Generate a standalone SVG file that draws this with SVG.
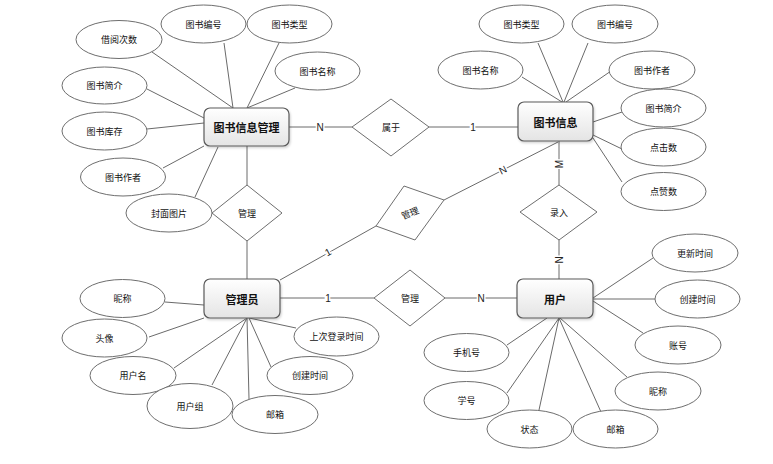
<svg xmlns="http://www.w3.org/2000/svg" width="773" height="464" viewBox="0 0 773 464">
<defs>
<linearGradient id="eg" x1="0" y1="0" x2="0" y2="1">
<stop offset="0" stop-color="#ffffff"/>
<stop offset="1" stop-color="#e4e4e4"/>
</linearGradient>
<filter id="sh" x="-10%" y="-10%" width="130%" height="140%">
<feDropShadow dx="1" dy="1.5" stdDeviation="1" flood-color="#000" flood-opacity="0.18"/>
</filter>
</defs>
<style>
text{font-family:"Noto Sans CJK SC","Noto Sans",sans-serif;fill:#111;text-anchor:middle;dominant-baseline:central}
.at ellipse{fill:#fff;stroke:#6e6e6e;stroke-width:1}
.at text{font-size:9px}
.en rect{fill:url(#eg);stroke:#5a5a5a;stroke-width:1.2;filter:url(#sh)}
.en text{font-size:11px;font-weight:bold}
.rel polygon{fill:#fff;stroke:#6e6e6e;stroke-width:1}
.rel text{font-size:9px}
#connectors line{stroke:#6a6a6a;stroke-width:1;fill:none}
.lb{font-family:"Liberation Sans",Arial,sans-serif;font-size:10px;fill:#222;stroke:#fff;stroke-width:3;paint-order:stroke}
</style>
<rect width="773" height="464" fill="#fff"/>

<g id="connectors">
<line x1="152" y1="52" x2="233" y2="108"/>
<line x1="224" y1="43" x2="233" y2="108"/>
<line x1="279" y1="43" x2="247" y2="108"/>
<line x1="295" y1="88" x2="247" y2="108"/>
<line x1="147" y1="89" x2="204" y2="118"/>
<line x1="147" y1="129" x2="204" y2="123"/>
<line x1="163" y1="168" x2="204" y2="146"/>
<line x1="195" y1="197" x2="218" y2="147"/>
<line x1="538" y1="43" x2="563" y2="102"/>
<line x1="588" y1="43" x2="564" y2="102"/>
<line x1="522" y1="77" x2="562" y2="102"/>
<line x1="611" y1="71" x2="566" y2="102"/>
<line x1="622" y1="112" x2="593" y2="122"/>
<line x1="622" y1="149" x2="593" y2="135"/>
<line x1="622" y1="182" x2="593" y2="138"/>
<line x1="165" y1="302" x2="204" y2="305"/>
<line x1="149" y1="337" x2="204" y2="318"/>
<line x1="174" y1="368" x2="247" y2="318"/>
<line x1="212" y1="385" x2="247" y2="318"/>
<line x1="249" y1="399" x2="247" y2="318"/>
<line x1="271" y1="367" x2="249" y2="318"/>
<line x1="296" y1="328" x2="249" y2="318"/>
<line x1="653" y1="258" x2="593" y2="298"/>
<line x1="655" y1="299" x2="593" y2="299"/>
<line x1="643" y1="333" x2="593" y2="301"/>
<line x1="627" y1="377" x2="560" y2="318"/>
<line x1="601" y1="412" x2="559" y2="318"/>
<line x1="539" y1="410" x2="559" y2="318"/>
<line x1="507" y1="393" x2="559" y2="318"/>
<line x1="507" y1="345" x2="547" y2="318"/>
<line x1="289" y1="127" x2="352" y2="127"/>
<line x1="429" y1="127" x2="518" y2="127"/>
<line x1="247" y1="146" x2="247" y2="185"/>
<line x1="247" y1="241" x2="247" y2="279"/>
<line x1="280" y1="298" x2="374" y2="298"/>
<line x1="445" y1="298" x2="517" y2="298"/>
<line x1="559" y1="141" x2="559" y2="185"/>
<line x1="559" y1="240" x2="559" y2="279"/>
<line x1="280" y1="280" x2="376" y2="226"/>
<line x1="444" y1="200" x2="558" y2="142"/>
<text class="lb" x="320" y="127">N</text>
<text class="lb" x="473" y="127">1</text>
<text class="lb" x="328" y="298">1</text>
<text class="lb" x="481" y="298">N</text>
<text class="lb" transform="translate(559 164) rotate(-90)">M</text>
<text class="lb" transform="translate(559 260) rotate(-90)">N</text>
<text class="lb" transform="translate(328 252) rotate(-29)">1</text>
<text class="lb" transform="translate(503 170) rotate(-27)">N</text>
</g>

<g id="e-tsxxgl" class="en"><rect x="204" y="108" width="85" height="38" rx="6"/><text x="246.5" y="127">图书信息管理</text></g>
<g id="e-tsxx" class="en"><rect x="518" y="102" width="75" height="39" rx="6"/><text x="555.5" y="121.5">图书信息</text></g>
<g id="e-gly" class="en"><rect x="204" y="279" width="76" height="39" rx="6"/><text x="242" y="298.5">管理员</text></g>
<g id="e-yh" class="en"><rect x="517" y="279" width="76" height="39" rx="6"/><text x="555" y="298.5">用户</text></g>

<g id="r-sy" class="rel"><polygon points="352,127 391,99 429,127 391,156"/><text x="391" y="127">属于</text></g>
<g id="r-gl1" class="rel"><polygon points="212,213 247,185 282,213 247,241"/><text x="247" y="213">管理</text></g>
<g id="r-gl2" class="rel"><polygon points="374,298 410,270 445,298 410,326"/><text x="410" y="298">管理</text></g>
<g id="r-lr" class="rel"><polygon points="520,212 559,185 597,212 559,240"/><text x="559" y="212">录入</text></g>
<g id="r-gl3" class="rel"><polygon points="404,186 444,200 415,240 376,226"/><text transform="translate(410 213) rotate(-22)">管理</text></g>

<g id="a-jycs" class="at"><ellipse cx="119" cy="39.5" rx="43" ry="19"/><text x="119" y="39.5">借阅次数</text></g>
<g id="a-tsbh1" class="at"><ellipse cx="203.5" cy="24" rx="42.5" ry="19"/><text x="203.5" y="24">图书编号</text></g>
<g id="a-tslx1" class="at"><ellipse cx="289.5" cy="24" rx="42.5" ry="19"/><text x="289.5" y="24">图书类型</text></g>
<g id="a-tsmc1" class="at"><ellipse cx="317.5" cy="71" rx="42.5" ry="19"/><text x="317.5" y="71">图书名称</text></g>
<g id="a-tsjj1" class="at"><ellipse cx="104.5" cy="85.5" rx="42.5" ry="18.5"/><text x="104.5" y="85.5">图书简介</text></g>
<g id="a-tskc" class="at"><ellipse cx="104.5" cy="131" rx="42.5" ry="19"/><text x="104.5" y="131">图书库存</text></g>
<g id="a-tszz1" class="at"><ellipse cx="123" cy="177" rx="42.5" ry="19"/><text x="123" y="177">图书作者</text></g>
<g id="a-fmtp" class="at"><ellipse cx="169" cy="213" rx="43" ry="19"/><text x="169" y="213">封面图片</text></g>

<g id="a-tslx2" class="at"><ellipse cx="521.5" cy="24" rx="42.5" ry="19"/><text x="521.5" y="24">图书类型</text></g>
<g id="a-tsbh2" class="at"><ellipse cx="615" cy="24" rx="43" ry="19"/><text x="615" y="24">图书编号</text></g>
<g id="a-tsmc2" class="at"><ellipse cx="480.5" cy="70" rx="42.5" ry="19"/><text x="480.5" y="70">图书名称</text></g>
<g id="a-tszz2" class="at"><ellipse cx="652" cy="70" rx="43" ry="19"/><text x="652" y="70">图书作者</text></g>
<g id="a-tsjj2" class="at"><ellipse cx="663.5" cy="108" rx="42.5" ry="19"/><text x="663.5" y="108">图书简介</text></g>
<g id="a-djs" class="at"><ellipse cx="663.5" cy="147" rx="42.5" ry="19"/><text x="663.5" y="147">点击数</text></g>
<g id="a-dzs" class="at"><ellipse cx="663.5" cy="191.5" rx="42.5" ry="19"/><text x="663.5" y="191.5">点赞数</text></g>

<g id="a-nc1" class="at"><ellipse cx="122.5" cy="298.5" rx="42.5" ry="19"/><text x="122.5" y="298.5">昵称</text></g>
<g id="a-tx" class="at"><ellipse cx="104.5" cy="338" rx="42.5" ry="19"/><text x="104.5" y="338">头像</text></g>
<g id="a-yhm" class="at"><ellipse cx="133" cy="375.5" rx="43" ry="19"/><text x="133" y="375.5">用户名</text></g>
<g id="a-yhz" class="at"><ellipse cx="190" cy="406" rx="43" ry="22.5"/><text x="190" y="406">用户组</text></g>
<g id="a-yx1" class="at"><ellipse cx="275" cy="414.5" rx="43" ry="19"/><text x="275" y="414.5">邮箱</text></g>
<g id="a-cjsj1" class="at"><ellipse cx="310" cy="375.5" rx="43" ry="19"/><text x="310" y="375.5">创建时间</text></g>
<g id="a-scdlsj" class="at"><ellipse cx="336.5" cy="336.5" rx="42.5" ry="19.5"/><text x="336.5" y="336.5">上次登录时间</text></g>

<g id="a-gxsj" class="at"><ellipse cx="695" cy="253" rx="43" ry="19"/><text x="695" y="253">更新时间</text></g>
<g id="a-cjsj2" class="at"><ellipse cx="697.5" cy="299" rx="42.5" ry="19"/><text x="697.5" y="299">创建时间</text></g>
<g id="a-zh" class="at"><ellipse cx="678" cy="345" rx="43" ry="19"/><text x="678" y="345">账号</text></g>
<g id="a-nc2" class="at"><ellipse cx="658" cy="391" rx="43" ry="19"/><text x="658" y="391">昵称</text></g>
<g id="a-yx2" class="at"><ellipse cx="615.5" cy="429" rx="42.5" ry="19"/><text x="615.5" y="429">邮箱</text></g>
<g id="a-zt" class="at"><ellipse cx="529.5" cy="429" rx="42.5" ry="19"/><text x="529.5" y="429">状态</text></g>
<g id="a-xh" class="at"><ellipse cx="466.5" cy="400.5" rx="42.5" ry="19"/><text x="466.5" y="400.5">学号</text></g>
<g id="a-sjh" class="at"><ellipse cx="466.5" cy="352.5" rx="42.5" ry="19"/><text x="466.5" y="352.5">手机号</text></g>
</svg>
